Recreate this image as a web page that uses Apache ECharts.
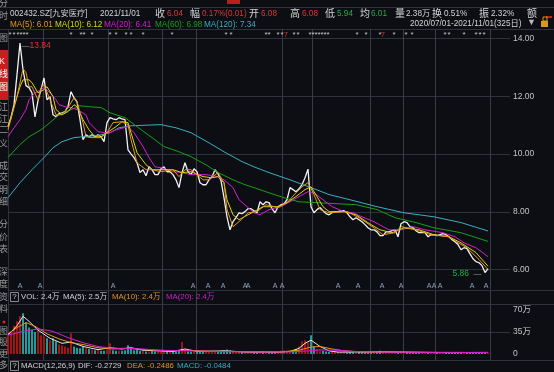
<!DOCTYPE html>
<html>
<head>
<meta charset="utf-8">
<script src="https://cdn.jsdelivr.net/npm/echarts@6.0.0/dist/echarts.min.js"></script>
<style>
html, body { margin: 0; padding: 0; background: #0c0e13; }
#main { width: 554px; height: 372px; }
</style>
</head>
<body>
<div id="main"></div>
<script>
// 002432.SZ 九安医疗 2020/07/01 - 2021/11/01, one sample about every 2 trading days
const closeData = [
  10.95, 11.26, 11.71, 12.75, 13.84, 12.92, 12.37, 12.30, 12.12, 11.29,
  11.85, 12.23, 12.64, 11.88, 11.99, 11.36, 11.29, 11.40, 11.43, 11.47,
  11.64, 12.16, 11.95, 11.81, 11.19, 10.50, 10.67, 10.60, 10.67, 10.60,
  10.67, 10.60, 10.43, 11.09, 11.26, 11.22, 11.19, 11.26, 11.22, 11.19,
  10.15, 10.01, 9.88, 9.70, 9.36, 9.46, 9.25, 9.56, 9.46, 9.29,
  9.29, 9.49, 9.56, 9.39, 9.39, 9.29, 9.11, 8.84, 9.36, 9.70,
  9.39, 9.29, 9.49, 9.39, 9.01, 8.94, 8.94, 9.11, 9.22, 9.46,
  9.32, 9.08, 8.49, 7.83, 7.38, 7.66, 7.80, 7.97, 7.94, 8.01,
  8.11, 8.11, 8.04, 7.97, 8.35, 8.25, 8.35, 8.32, 8.11, 7.97,
  8.18, 8.25, 8.28, 8.42, 8.84, 8.77, 8.70, 8.80, 8.94, 9.18,
  9.48, 8.18, 7.97, 8.08, 8.15, 8.04, 7.94, 7.90, 7.97, 8.01,
  8.01, 8.04, 8.04, 7.97, 7.83, 7.73, 7.80, 7.73, 7.66, 7.56,
  7.45, 7.38, 7.38, 7.31, 7.18, 7.18, 7.31, 7.31, 7.35, 7.38,
  7.14, 7.59, 7.66, 7.63, 7.49, 7.45, 7.35, 7.28, 7.28, 7.28,
  7.14, 7.21, 7.21, 7.18, 7.21, 7.25, 7.21, 7.14, 7.04, 6.97,
  6.87, 6.69, 6.76, 6.73, 6.55, 6.38, 6.28, 6.24, 6.14, 5.90,
  6.04
];

// moving averages: [sample index, price]
const ma5Data = [[0,10.84],[3,11.99],[5,12.95],[6,12.82],[7,12.33],[8,12.33],[10,11.88],[11,12.30],[12,12.40],
  [14,11.88],[16,11.36],[18,11.36],[20,11.61],[22,11.95],[23,11.81],[25,11.09],[26,10.60],[28,10.57],[31,10.57],
  [33,10.74],[35,11.09],[38,11.12],[40,11.02],[41,10.50],[43,9.70],[46,9.46],[48,9.46],[51,9.39],[55,9.46],
  [57,9.22],[59,9.46],[61,9.46],[65,9.11],[67,9.11],[70,9.36],[72,9.01],[73,8.08],[75,7.49],[77,7.66],[80,7.97],
  [83,8.01],[86,8.25],[90,8.15],[93,8.32],[96,8.66],[98,8.87],[100,9.01],[102,8.60],[104,8.08],[107,7.97],
  [113,8.01],[117,7.80],[122,7.45],[125,7.21],[129,7.28],[131,7.49],[136,7.38],[141,7.21],[147,7.14],[150,6.93],
  [153,6.76],[157,6.35],[160,6.01]];
const ma10Data = [[0,10.95],[2,11.64],[4,12.33],[5,12.57],[7,12.57],[8,12.47],[10,12.12],[12,12.23],[13,12.33],
  [15,11.99],[16,11.54],[18,11.36],[20,11.47],[22,11.71],[23,11.64],[25,11.19],[27,10.84],[29,10.60],[31,10.60],
  [33,10.74],[36,10.95],[38,11.12],[40,11.09],[41,10.74],[43,10.05],[46,9.63],[48,9.46],[51,9.46],[55,9.46],
  [58,9.36],[61,9.39],[65,9.22],[68,9.18],[70,9.22],[72,9.01],[73,8.42],[75,7.90],[77,7.73],[80,7.90],[82,8.01],
  [85,8.18],[90,8.18],[93,8.32],[96,8.53],[99,8.77],[101,8.87],[103,8.53],[105,8.18],[107,8.01],[112,8.01],
  [116,7.90],[121,7.56],[124,7.38],[128,7.28],[132,7.45],[137,7.38],[142,7.21],[147,7.14],[151,6.93],[156,6.59],
  [160,6.12]];
const ma20Data = [[0,10.60],[2,10.91],[4,11.19],[6,11.54],[7,11.88],[9,12.12],[11,12.23],[12,12.30],[14,12.12],
  [16,11.88],[17,11.71],[19,11.64],[21,11.61],[23,11.54],[26,11.36],[27,11.09],[30,10.78],[32,10.74],[34,10.74],
  [36,10.84],[40,10.95],[42,10.74],[45,10.26],[47,9.88],[49,9.56],[51,9.53],[55,9.39],[58,9.36],[61,9.29],
  [66,9.29],[70,9.22],[72,9.11],[75,8.84],[77,8.42],[80,8.15],[82,7.97],[84,7.90],[87,8.08],[91,8.18],[94,8.35],
  [97,8.53],[100,8.70],[102,8.66],[105,8.42],[108,8.18],[112,8.01],[115,7.97],[118,7.83],[122,7.66],[127,7.38],
  [131,7.38],[135,7.49],[139,7.38],[145,7.28],[149,7.14],[152,6.93],[156,6.76],[160,6.45]];
const ma60Data = [[0,9.88],[4,10.33],[7,10.60],[11,10.84],[14,11.09],[17,11.36],[21,11.54],[24,11.67],[27,11.64],
  [31,11.61],[34,11.43],[39,11.26],[43,10.95],[48,10.57],[52,10.26],[57,10.08],[61,9.91],[66,9.63],[70,9.36],
  [75,9.11],[79,8.94],[82,8.84],[87,8.66],[92,8.49],[97,8.35],[103,8.32],[110,8.28],[116,8.25],[123,8.08],
  [129,7.80],[136,7.63],[142,7.45],[151,7.28],[160,6.98]];
const ma120Data = [[0,8.49],[4,9.01],[8,9.46],[12,9.88],[15,10.22],[18,10.43],[22,10.57],[25,10.60],[30,10.64],
  [34,10.74],[37,10.91],[41,10.98],[51,11.02],[56,10.91],[61,10.74],[67,10.39],[72,10.08],[78,9.74],[82,9.56],
  [87,9.36],[94,9.11],[101,8.84],[107,8.60],[114,8.42],[123,8.18],[132,7.97],[142,7.83],[151,7.63],[160,7.34]];

// volume, 万手
const volData = [
  30, 35, 45, 52, 60, 65, 50, 42, 38, 35, 40, 30, 28, 25, 22, 25, 20, 15, 14, 12,
  10, 33, 12, 10, 9, 12, 9, 8, 7, 6, 6, 5, 5, 7, 17, 6, 5, 5, 5, 6,
  14, 8, 6, 7, 5, 5, 4, 4, 5, 4, 4, 3, 4, 4, 3, 4, 4, 5, 19, 5,
  4, 4, 3, 3, 4, 3, 3, 3, 3, 3, 4, 5, 6, 7, 6, 5, 4, 4, 3, 3,
  3, 3, 3, 3, 3, 4, 3, 3, 3, 3, 4, 5, 6, 4, 4, 6, 8, 12, 20, 22,
  18, 30, 12, 8, 6, 5, 4, 3, 3, 3, 3, 3, 2.5, 2.5, 3, 2.5, 2.5, 3, 4, 3,
  2.5, 2.5, 3, 3, 5, 3, 2.5, 2.5, 3, 2.5, 3, 4, 3, 2.5, 2.5, 2, 2, 2.5, 2, 2,
  2.5, 2, 2, 2.5, 2, 2, 2.5, 2, 2.5, 3, 3, 2.5, 2.5, 2, 3, 3, 2.5, 2.5, 3, 3,
  2.38
];
const volMa5Data = [[0,30],[3,45],[5,60],[7,52],[10,38],[14,25],[18,17],[21,19],[25,12],[30,7],[34,10],[38,8],
  [41,10],[45,6],[55,4],[59,8],[63,4],[72,5],[80,3],[90,3],[94,4],[97,9],[99,17],[101,22],[104,12],[107,5],
  [110,3],[124,3.5],[131,3],[145,2.2],[160,2.5]];
const volMa10Data = [[0,32],[3,42],[6,50],[9,44],[13,32],[17,24],[21,18],[25,15],[30,10],[35,8],[40,9],[45,7],
  [55,5],[60,6],[70,4],[90,3],[97,6],[101,11],[104,12],[108,8],[112,5],[120,3],[130,3],[145,2.5],[160,2.4]];
const volMa20Data = [[0,30],[5,36],[10,40],[15,36],[20,26],[25,18],[30,12],[35,9],[40,9],[45,8],[50,6],[60,5],
  [70,4],[85,3],[95,3.5],[100,5],[104,6.5],[110,6],[115,4],[125,3],[140,2.6],[160,2.4]];

const highPoint = { idx: 4, value: 13.84 };
const lowPoint = { idx: 158.3, value: 5.86 };
const priceTicks = [6, 8, 10, 12, 14];
const volTicks = [0, 35, 70];

// layout / style
const X_MAX = 160 * 502 / 480;      // data ends at the plot border, split lines run on to the labels
const vGridIdx = [11.67, 33.33, 51.33, 62.67, 91.33, 101.33, 120.67, 131.67, 142.33, 160.67];
const C = {
  bg: '#0c0e13', grid: '#2e323c', vgrid: '#383d48', text: '#d4d4d4', gray: '#9a9a9a',
  red: '#e03434', green: '#1fae4a',
  ma5: '#e8951c', ma10: '#d6d612', ma20: '#d41ed4', ma60: '#16a016', ma120: '#38aec2',
  volUp: '#a31414', volDown: '#1f9c9c'
};
const FONT = '"Liberation Sans", "Noto Sans CJK SC", sans-serif';
const FS = 8.2;

function txt(x, y, s, color, size, align) {
  return {
    type: 'text', x: x, y: y, silent: true, z: 10,
    style: {
      text: s, fill: color, font: (size || FS) + 'px ' + FONT,
      textAlign: align || 'left', textVerticalAlign: 'middle'
    }
  };
}
function line(x1, y1, x2, y2) {
  return { type: 'line', shape: { x1: x1, y1: y1, x2: x2, y2: y2 }, style: { stroke: C.grid, lineWidth: 1 } };
}

const graphics = [];
// frame lines
graphics.push(line(0, 7.5, 554, 7.5), line(0, 29.5, 554, 29.5), line(8, 290.5, 554, 290.5),
  line(8, 304.5, 554, 304.5), line(8, 360.5, 554, 360.5), line(8.5, 29, 8.5, 372));
graphics.push({ type: 'rect', silent: true, shape: { x: 227, y: 0, width: 13, height: 4 }, style: { fill: '#b82020' } });

// info row
[
  [10, '002432.SZ[九安医疗]', C.text, FS], [100, '2021/11/01', C.text, FS],
  [155, '收', C.text, 10], [167, '6.04', C.red, FS],
  [190, '幅', C.text, 10], [202, '0.17%(0.01)', C.red, FS],
  [249, '开', C.text, 10], [261, '6.08', C.red, FS],
  [290, '高', C.text, 10], [302, '6.08', C.red, FS],
  [325, '低', C.text, 10], [337, '5.94', C.green, FS],
  [360, '均', C.text, 10], [371, '6.01', C.green, FS],
  [395, '量', C.text, 10], [406, '2.38万', C.text, FS],
  [432, '换', C.text, 10], [444, '0.51%', C.text, FS],
  [479, '振', C.text, 10], [491, '2.32%', C.text, FS],
  [527, '额', C.text, 10]
].forEach(function (t) { graphics.push(txt(t[0], 14, t[1], t[2], t[3])); });
graphics.push({ type: 'rect', silent: true, shape: { x: 546, y: 16, width: 6, height: 2 }, style: { fill: '#c02020' } });

// MA legend row
[
  [10, 'MA(5): 6.01', C.ma5], [55, 'MA(10): 6.12', C.ma10], [104, 'MA(20): 6.41', C.ma20],
  [155, 'MA(60): 6.98', C.ma60], [204, 'MA(120): 7.34', C.ma120]
].forEach(function (t) { graphics.push(txt(t[0], 24.5, t[1], t[2])); });
graphics.push(txt(410, 24, '2020/07/01-2021/11/01(325日)', C.text));
graphics.push(txt(527, 23, '▼', '#bbbbbb', 9));
graphics.push({ type: 'rect', silent: true, shape: { x: 541, y: 21, width: 7, height: 6 }, style: { fill: '#d89a18' } });
graphics.push({ type: 'rect', silent: true, shape: { x: 543, y: 17, width: 4, height: 4 }, style: { fill: 'none', stroke: '#d89a18' } });

// event marks along the top and bottom of the price pane
[10, 14, 18, 21, 24, 27, 71, 81, 84, 92, 110, 116, 126, 131, 143, 172, 226, 231, 266, 269, 278, 282, 294, 298,
 310, 313, 316, 319, 322, 325, 328, 357, 366, 380, 394, 406, 412, 445, 449, 464, 476, 480, 484]
  .forEach(function (x) { graphics.push(txt(x, 35, '*', '#c8c8c8', 8, 'center')); });
[286, 383].forEach(function (x) { graphics.push(txt(x, 35, '7', C.red, 7, 'center')); });
[20, 40, 113, 193, 208, 223, 245, 248, 275, 282, 338, 358, 382, 401, 429, 434, 440, 472, 486]
  .forEach(function (x) { graphics.push(txt(x, 286, 'A', '#8fa0b8', 7, 'center')); });

// left side tabs (cut by the window edge)
[['分', 4], ['时', 17], ['图', 39], ['江', 108], ['江', 120], ['二', 131], ['义', 145], ['成', 167], ['交', 178],
 ['明', 191], ['细', 203], ['分', 225], ['价', 238], ['表', 250], ['深', 273], ['度', 285], ['资', 298], ['料', 310],
 ['图', 332], ['股', 343], ['更', 355], ['多', 366]]
  .forEach(function (t) { graphics.push(txt(-1, t[1], t[0], C.gray, 9)); });
graphics.push({ type: 'rect', silent: true, shape: { x: 0, y: 50, width: 8, height: 50 }, style: { fill: '#c81e1e' } });
[['K', 62], ['线', 75], ['图', 88]].forEach(function (t) { graphics.push(txt(-1, t[1], t[0], '#ffffff', 9)); });
graphics.push({ type: 'circle', silent: true, shape: { cx: 4, cy: 322, r: 1.5 }, style: { fill: '#e02020' } });

// volume and MACD headers
function qbox(y) {
  graphics.push({ type: 'rect', silent: true, shape: { x: 10.5, y: y - 4.5, width: 8, height: 9 }, style: { fill: 'none', stroke: '#8a8a8a' } });
  graphics.push(txt(14.5, y, '?', '#c8c8c8', 8, 'center'));
}
qbox(297);
[[21, 'VOL: 2.4万', C.text], [63, 'MA(5): 2.5万', C.text], [112, 'MA(10): 2.4万', C.ma5], [166, 'MA(20): 2.4万', C.ma20]]
  .forEach(function (t) { graphics.push(txt(t[0], 297, t[1], t[2], 7.8)); });
qbox(366);
[[21, 'MACD(12,26,9)', C.text], [78, 'DIF: -0.2729', C.text], [127, 'DEA: -0.2486', C.ma5], [177, 'MACD: -0.0484', C.ma120]]
  .forEach(function (t) { graphics.push(txt(t[0], 366, t[1], t[2], 7.8)); });

function maLine(name, data, color, xi) {
  return {
    name: name, type: 'line', data: data, xAxisIndex: xi || 0, yAxisIndex: xi || 0,
    showSymbol: false, symbol: 'none', z: 3, silent: true,
    lineStyle: { color: color, width: 1 }
  };
}
// vertical time grid lines drawn through the axis scales: [x, top value, bottom value]
function vGrid(xi, top, bottom) {
  return {
    type: 'custom', xAxisIndex: xi, yAxisIndex: xi, z: 1, silent: true, clip: false,
    data: vGridIdx.map(function (v) { return [v, top, bottom]; }),
    encode: { x: 0, y: [1, 2] },
    renderItem: function (params, api) {
      const a = api.coord([api.value(0), api.value(1)]);
      const b = api.coord([api.value(0), api.value(2)]);
      const x = Math.round(a[0]) + 0.5;
      return { type: 'line', shape: { x1: x, y1: a[1], x2: x, y2: b[1] }, style: { stroke: C.vgrid, lineWidth: 1, fill: null } };
    }
  };
}

const chart = echarts.init(document.getElementById('main'));
chart.setOption({
  backgroundColor: C.bg,
  animation: false,
  textStyle: { fontFamily: FONT },
  grid: [
    { left: 8, width: 502, top: 9.6, height: 289 },
    { left: 8, width: 502, top: 310, height: 44 }
  ],
  xAxis: [
    { type: 'value', gridIndex: 0, min: 0, max: X_MAX, show: false },
    { type: 'value', gridIndex: 1, min: 0, max: X_MAX, show: false }
  ],
  yAxis: [
    {
      type: 'value', gridIndex: 0, position: 'right', min: 5, max: 15, interval: 1,
      axisLine: { show: false }, axisTick: { show: false },
      axisLabel: {
        color: '#c4c4c4', fontSize: 8.5, margin: 3,
        formatter: function (v) { return priceTicks.indexOf(v) >= 0 ? v.toFixed(2) : ''; }
      },
      splitLine: { lineStyle: { color: ['rgba(0,0,0,0)', C.grid] } }
    },
    {
      type: 'value', gridIndex: 1, position: 'right', min: 0, max: 70, interval: 35,
      axisLine: { show: false }, axisTick: { show: false },
      axisLabel: {
        color: '#c4c4c4', fontSize: 8.5, margin: 3,
        formatter: function (v) { return volTicks.indexOf(v) < 0 ? '' : (v === 0 ? '0' : v + '万'); }
      },
      splitLine: { lineStyle: { color: ['rgba(0,0,0,0)', C.grid, 'rgba(0,0,0,0)'] } }
    }
  ],
  graphic: graphics,
  series: [
    vGrid(0, 14.33, 5.31),
    vGrid(1, 100.3, -9.5),
    {
      name: 'close', type: 'line', xAxisIndex: 0, yAxisIndex: 0, z: 2, silent: true,
      data: closeData.map(function (v, i) { return [i, v]; }),
      showSymbol: false, symbol: 'none',
      lineStyle: { color: '#f2f2f2', width: 1.3 },
      markPoint: {
        silent: true, symbol: 'circle', symbolSize: 1, animation: false,
        itemStyle: { color: 'rgba(0,0,0,0)' },
        label: {
          show: true,
          rich: {
            l: { color: '#a0a0a0', fontSize: 8 },
            hv: { color: C.red, fontSize: 8.5 },
            lv: { color: C.green, fontSize: 8.5 }
          }
        },
        data: [
          { coord: [highPoint.idx, highPoint.value],
            label: { position: 'right', distance: 1, offset: [0, 3], formatter: '{l|—}{hv|' + highPoint.value.toFixed(2) + '}' } },
          { coord: [lowPoint.idx, lowPoint.value],
            label: { position: 'left', distance: 1, formatter: '{lv|' + lowPoint.value.toFixed(2) + '}{l|  —}' } }
        ]
      }
    },
    maLine('MA120', ma120Data, C.ma120),
    maLine('MA60', ma60Data, C.ma60),
    maLine('MA20', ma20Data, C.ma20),
    maLine('MA10', ma10Data, C.ma10),
    maLine('MA5', ma5Data, C.ma5),
    {
      name: 'VOL', type: 'bar', xAxisIndex: 1, yAxisIndex: 1, barWidth: 2, silent: true, z: 2,
      data: volData.map(function (v, i) { return [i, v]; }),
      itemStyle: {
        color: function (p) {
          const i = p.dataIndex;
          return i === 0 || closeData[i] >= closeData[i - 1] ? C.volUp : C.volDown;
        }
      }
    },
    maLine('VMA5', volMa5Data, '#e6e6e6', 1),
    maLine('VMA10', volMa10Data, C.ma5, 1),
    maLine('VMA20', volMa20Data, C.ma20, 1)
  ]
});
</script>
</body>
</html>
